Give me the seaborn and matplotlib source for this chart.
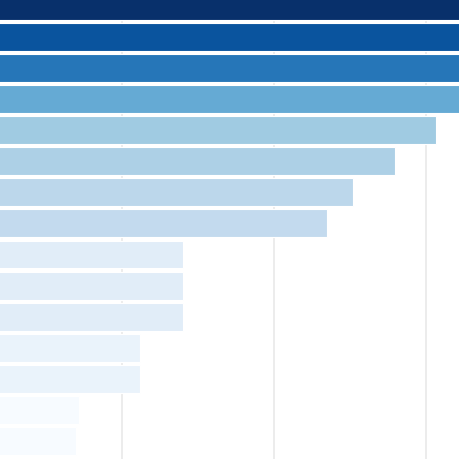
import numpy as np
import pandas as pd
import seaborn as sns
import matplotlib
matplotlib.use("Agg")
import matplotlib.pyplot as plt

# categories (labels are cropped out of the reference, so placeholders)
categories = ["A", "B", "C", "D", "E", "F", "G", "H", "I", "J", "K", "L", "M", "N", "O"]
# values; the top four run past the frame,
# their size is estimated from the colour scale
values = [71.0, 62.0, 53.5, 40.0, 30.7, 28.0, 25.2, 23.5, 14.0, 14.0, 14.0, 11.2, 11.2, 7.2, 7.0]

df = pd.DataFrame({"category": categories, "value": values})

sns.set_style("white")
fig = plt.figure(figsize=(4.6, 4.6), dpi=100)
ax = fig.add_axes([0, 0, 1, 1])

sns.barplot(data=df, y="category", x="value", hue="value", palette="Blues",
            order=categories, dodge=False, legend=False, width=0.9, saturation=1,
            edgecolor="white", linewidth=0.8, ax=ax, zorder=2)

# chart is a crop of a larger figure: zero and labels are off-frame
ax.set_xlim(1.97, 32.25)
ax.set_ylim(14.58, -0.222)
ax.set_xticks([10, 20, 30])
ax.xaxis.grid(True, color="#ececec", linewidth=1.4, zorder=0)
ax.set_axisbelow(True)
ax.set_xlabel("")
ax.set_ylabel("")
ax.tick_params(left=False, bottom=False, labelleft=False, labelbottom=False)
for s in ax.spines.values():
    s.set_visible(False)

fig.savefig("out.png", dpi=100)
